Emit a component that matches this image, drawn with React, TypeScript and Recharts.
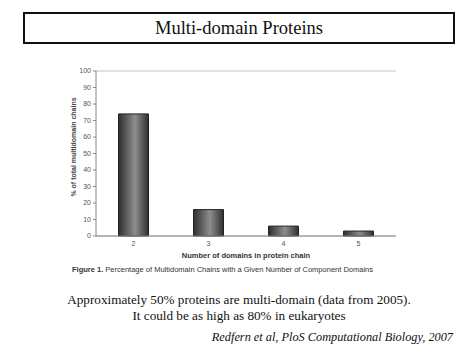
import React from "react";
import { BarChart, Bar, XAxis, YAxis, CartesianGrid } from "recharts";

const domains = ["2", "3", "4", "5"];
const percentValues = [74, 16, 6, 3];
const yTicks = [0, 10, 20, 30, 40, 50, 60, 70, 80, 90, 100];
const boundaryTicks = [1.5, 2.5, 3.5, 4.5, 5.5];

const data = domains.map((d, i) => ({ domain: d, pos: Number(d), value: percentValues[i] }));

const tickStyle = { fontSize: 7, fill: "#555", fontFamily: "Liberation Sans, Arial, sans-serif" };

export default function App() {
  return (
    <div style={{ position: "absolute", left: 0, top: 0, width: 474, height: 355, background: "#fff", fontFamily: "Liberation Serif, Times New Roman, serif" }}>
      <div style={{ position: "absolute", left: 23, top: 12, width: 428, height: 28, border: "2px solid #111", display: "flex", alignItems: "center", justifyContent: "center", fontSize: 18.5, color: "#111" }}>
        Multi-domain Proteins
      </div>
      <div style={{ position: "absolute", left: 0, top: 0 }}>
        <BarChart width={474} height={355} data={data} margin={{ top: 71, right: 78, bottom: 99, left: 66 }} barCategoryGap="30%">
          <defs>
            <linearGradient id="barGrad" x1="0" y1="0" x2="1" y2="0">
              <stop offset="0%" stopColor="#2e2e2e" />
              <stop offset="55%" stopColor="#8e8e8e" />
              <stop offset="100%" stopColor="#303030" />
            </linearGradient>
          </defs>
          <CartesianGrid vertical={false} stroke="#c4c4c4" strokeWidth={1} />
          <XAxis xAxisId="cat" dataKey="domain" axisLine={{ stroke: "#888" }} tickLine={false} tickSize={0} tick={tickStyle} tickMargin={5} height={20} />
          <XAxis xAxisId="bnd" type="number" dataKey="pos" domain={[1.5, 5.5]} ticks={boundaryTicks} tick={false} axisLine={false} tickLine={{ stroke: "#888" }} tickSize={4} height={0} />
          <YAxis yAxisId="l" domain={[0, 100]} ticks={yTicks} interval={0} width={30} axisLine={{ stroke: "#888" }} tickLine={{ stroke: "#888" }} tickSize={3} tick={tickStyle} />
          <YAxis yAxisId="r" orientation="right" domain={[0, 100]} tick={false} tickLine={false} axisLine={{ stroke: "#aaa" }} width={0} />
          <Bar xAxisId="cat" yAxisId="l" dataKey="value" fill="url(#barGrad)" stroke="#222" strokeWidth={1} isAnimationActive={false} />
        </BarChart>
      </div>
      <div style={{ position: "absolute", left: 73, top: 147, width: 0, height: 0 }}>
        <div style={{ position: "absolute", transform: "translate(-50%, -50%) rotate(-90deg)", whiteSpace: "nowrap", fontSize: 7, fontWeight: "bold", color: "#444", fontFamily: "Liberation Sans, Arial, sans-serif" }}>
          % of total multidomain chains
        </div>
      </div>
      <div style={{ position: "absolute", left: 96, width: 300, top: 251, lineHeight: "9px", textAlign: "center", fontSize: 7.5, fontWeight: "bold", color: "#333", fontFamily: "Liberation Sans, Arial, sans-serif" }}>
        Number of domains in protein chain
      </div>
      <div style={{ position: "absolute", left: 72, top: 265, lineHeight: "10px", whiteSpace: "nowrap", fontSize: 7.5, color: "#333", fontFamily: "Liberation Sans, Arial, sans-serif" }}>
        <b>Figure 1.</b> Percentage of Multidomain Chains with a Given Number of Component Domains
      </div>
      <div style={{ position: "absolute", left: 0, width: 478, top: 292, textAlign: "center", fontSize: 13.2, lineHeight: "16px", color: "#111" }}>
        Approximately 50% proteins are multi-domain (data from 2005).<br />
        It could be as high as 80% in eukaryotes
      </div>
      <div style={{ position: "absolute", right: 21, top: 330, whiteSpace: "nowrap", fontSize: 12.3, fontStyle: "italic", color: "#111" }}>
        Redfern et al, PloS Computational Biology, 2007
      </div>
    </div>
  );
}
